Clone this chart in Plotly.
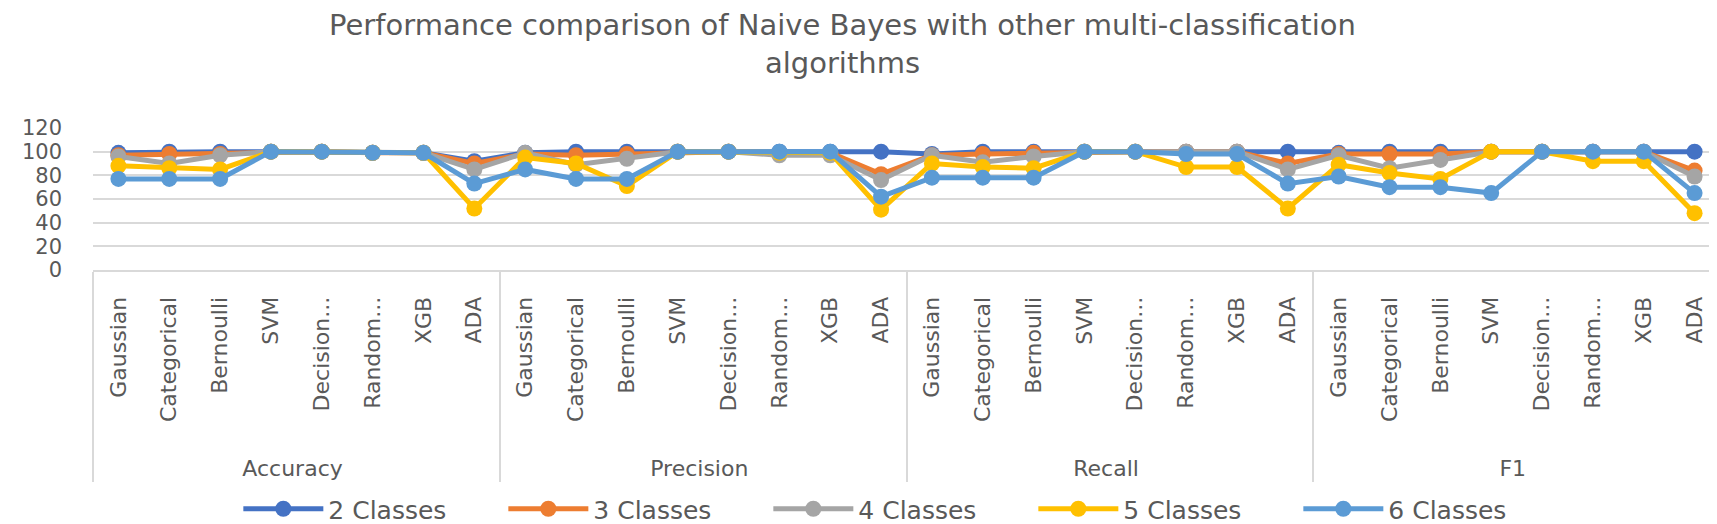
import plotly.graph_objects as go

# metric groups and algorithms (second / first level of the category axis)
metrics = ["Accuracy", "Precision", "Recall", "F1"]
algorithms = ["Gaussian", "\u00a0\u00a0\u00a0\u00a0Categorical", "Bernoulli", "SVM",
              "Decision...", "Random...", "XGB", "ADA"]

series_names = ["2 Classes", "3 Classes", "4 Classes", "5 Classes", "6 Classes"]

# values per series, 8 algorithms for Accuracy, Precision, Recall, F1
classes_2 = [99, 100, 100, 100, 100, 99, 99, 92,
             99, 100, 100, 100, 100, 100, 100, 100,
             98, 100, 100, 100, 100, 100, 100, 100,
             99, 100, 100, 100, 100, 100, 100, 100]
classes_3 = [97, 98, 98, 100, 100, 99, 99, 90,
             98, 97, 98, 100, 100, 99, 99, 81,
             97, 98, 99, 100, 100, 100, 100, 90,
             98, 98, 98, 100, 100, 100, 100, 84]
classes_4 = [96, 90, 97, 100, 100, 99, 99, 85,
             99, 89, 94, 100, 100, 97, 97, 76,
             97, 91, 96, 100, 100, 100, 100, 85,
             97, 86, 93, 100, 100, 100, 100, 79]
classes_5 = [88, 86, 85, 100, 100, 99, 99, 52,
             95, 90, 71, 100, 100, 99, 99, 51,
             90, 87, 86, 100, 100, 87, 87, 52,
             89, 82, 77, 100, 100, 92, 92, 48]
classes_6 = [77, 77, 77, 100, 100, 99, 99, 73,
             85, 77, 77, 100, 100, 100, 100, 62,
             78, 78, 78, 100, 100, 98, 98, 73,
             79, 70, 70, 65, 100, 100, 100, 65]

colors = ["#4472C4", "#ED7D31", "#A5A5A5", "#FFC000", "#5B9BD5"]

FONT = "DejaVu Sans"
TEXT = "#595959"
GRID = "#D9D9D9"

x_groups = [m for m in metrics for _ in algorithms]
x_names = algorithms * len(metrics)

fig = go.Figure()
for name, vals, col in zip(series_names,
                           [classes_2, classes_3, classes_4, classes_5, classes_6],
                           colors):
    fig.add_trace(go.Scatter(
        x=[x_groups, x_names],
        y=vals,
        name=name,
        mode="lines+markers",
        line=dict(color=col, width=5),
        marker=dict(color=col, size=16),
    ))

fig.update_layout(
    width=1717,
    height=524,
    paper_bgcolor="white",
    plot_bgcolor="white",
    margin=dict(l=85, r=5, t=120, b=262),
    font=dict(family=FONT, color=TEXT),
    title=dict(
        text="Performance comparison of Naive Bayes with other multi-classification<br>algorithms",
        x=0.486, xanchor="center",
        y=0.948, yanchor="top",
        font=dict(size=29, color=TEXT, family=FONT),
    ),
    xaxis=dict(
        type="multicategory",
        range=[-0.5, len(x_names) - 0.5],
        tickangle=-90,
        tickfont=dict(size=22, color=TEXT),
        showdividers=True,
        dividercolor=GRID,
        dividerwidth=2,
        showline=True,
        linecolor=GRID,
        linewidth=2,
        showgrid=False,
        ticklabelstandoff=16,
    ),
    yaxis=dict(
        range=[0, 120],
        dtick=20,
        tickfont=dict(size=21, color=TEXT),
        gridcolor=GRID,
        gridwidth=2,
        zeroline=False,
        showline=False,
        ticklabelstandoff=30,
    ),
    legend=dict(
        orientation="h",
        xref="container", yref="container",
        x=0.52, xanchor="center",
        y=-0.01, yanchor="bottom",
        font=dict(size=25, color=TEXT, family=FONT),
        itemwidth=80,
        entrywidth=170,
        entrywidthmode="pixels",
    ),
)

fig.write_html("out.html")
